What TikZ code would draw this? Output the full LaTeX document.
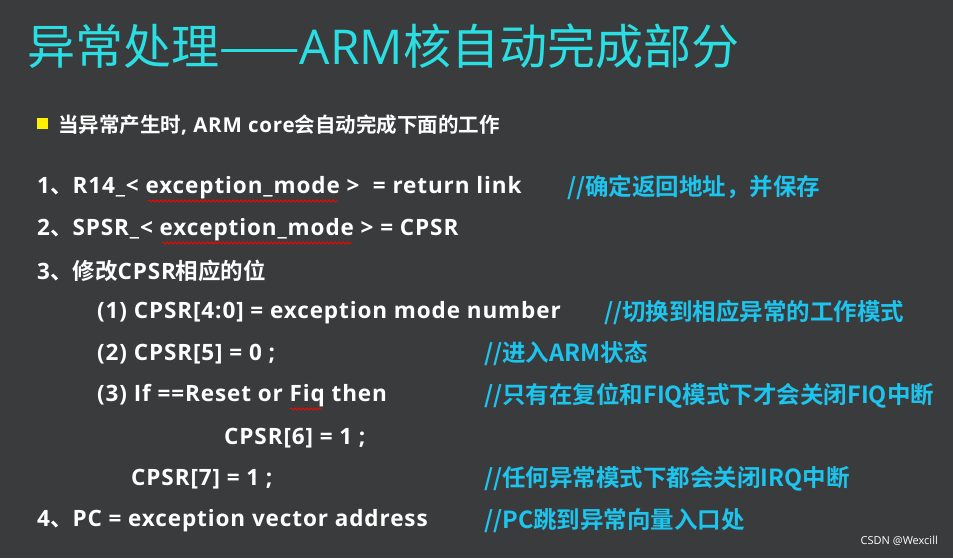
\documentclass[tikz,border=0pt]{standalone}
\usepackage{fontspec}
\setmainfont{Open Sans}[BoldFont=Open Sans Bold,BoldFeatures={LetterSpace=4}]
\newfontfamily\zhfont{Noto Sans CJK SC}[BoldFont=Noto Sans CJK SC Bold]
\newcommand{\zh}[1]{{\zhfont #1}}
\usetikzlibrary{decorations.pathmorphing}
\definecolor{bg}{HTML}{3A3B3C}
\definecolor{ttl}{HTML}{2ADFE3}
\definecolor{cmt}{HTML}{1CC4EE}
\tikzset{
 txt/.style={anchor=west,inner sep=0pt,text=white,font=\bfseries\fontsize{22.5}{24}\selectfont},
 cmtxt/.style={anchor=west,inner sep=0pt,text=cmt,font=\zhfont\bfseries\fontsize{23.5}{24}\selectfont},
 sq/.style={red,line width=0.8pt,decorate,decoration={snake,amplitude=1pt,segment length=4pt}}
}
\begin{document}
\begin{tikzpicture}[x=1pt,y=-1pt]
\fill[bg] (0,0) rectangle (953,558);
\useasboundingbox (0,0) rectangle (953,558);
\node[anchor=west,inner sep=0pt,text=ttl,font=\fontsize{48}{52}\selectfont] (title) at (27,46) {\zh{异常处理——}ARM\zh{核自动完成部分}};
\fill[yellow] (37,118) rectangle (48,129);
\node[txt,font=\bfseries\fontsize{20.5}{22}\selectfont] (intro) at (58,125) {\zh{当异常产生时}, ARM core\zh{会自动完成下面的工作}};
\node[txt] (l1) at (37,188) {1\zh{、}R14\_< exception\_mode >\ \ = return link};
\node[cmtxt] (c1) at (567,188) {//确定返回地址，并保存};
\node[txt] (l2) at (37,230) {2\zh{、}SPSR\_< exception\_mode > = CPSR};
\node[txt] (l3) at (37,271) {3\zh{、修改}CPSR\zh{相应的位}};
\node[txt] (l4) at (97,313) {(1)\ CPSR[4:0] = exception mode number};
\node[cmtxt] (c4) at (604,313) {//切换到相应异常的工作模式};
\node[txt] (l5) at (97,354) {(2)\ CPSR[5] = 0 ;};
\node[cmtxt] (c5) at (484,354) {//进入ARM状态};
\node[txt] (l6) at (97,396) {(3)\ If ==Reset or Fiq then};
\node[cmtxt] (c6) at (484,396) {//只有在复位和FIQ模式下才会关闭FIQ中断};
\node[txt] (l7) at (224,438) {CPSR[6] = 1 ;};
\node[txt] (l8) at (131,479) {CPSR[7] = 1 ;};
\node[cmtxt] (c8) at (484,479) {//任何异常模式下都会关闭IRQ中断};
\node[txt] (l9) at (37,521) {4\zh{、}PC = exception vector address};
\node[cmtxt] (c9) at (484,521) {//PC跳到异常向量入口处};
\node[anchor=east,inner sep=0pt,text=white,font=\fontsize{11}{13}\selectfont] (wm) at (938,541) {CSDN @Wexcill};
\draw[sq] (148,201) -- (338,201);
\draw[sq] (162,243) -- (352,243);
\draw[sq] (290,409) -- (322,409);
\end{tikzpicture}
\end{document}
